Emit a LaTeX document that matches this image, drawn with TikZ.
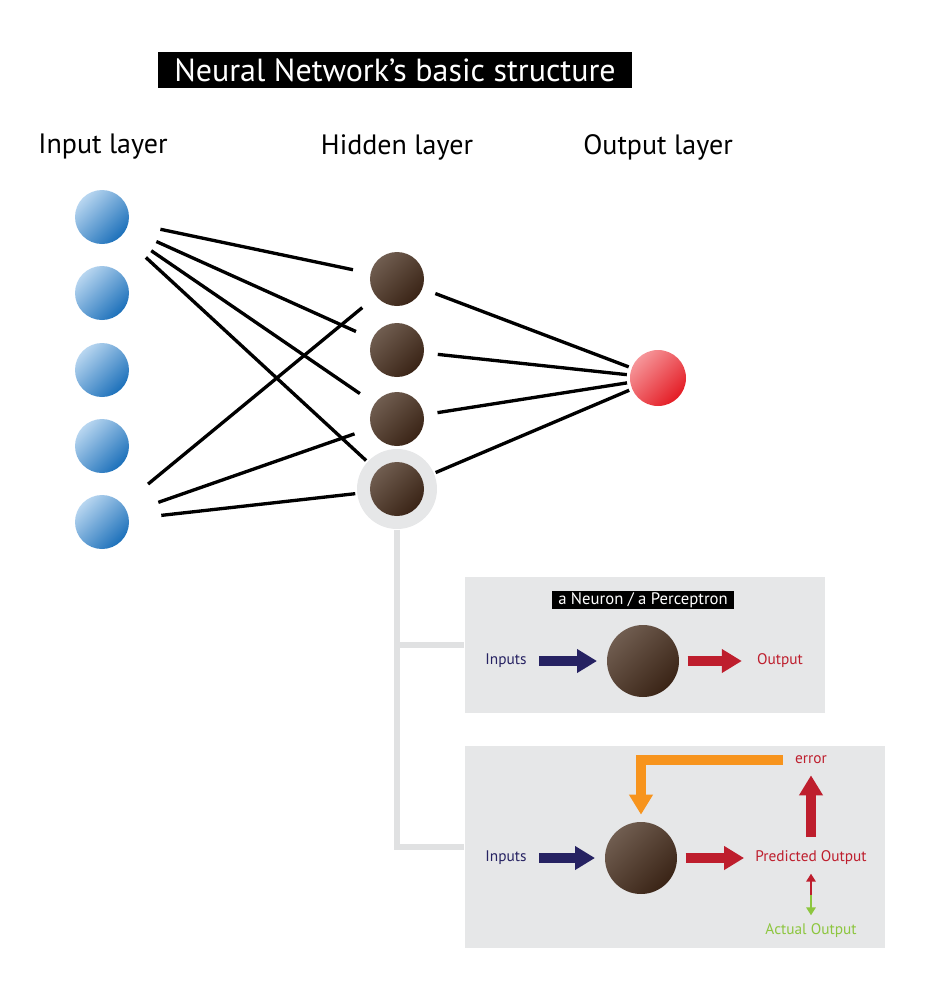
\documentclass[tikz,border=0pt]{standalone}
\usepackage{fontspec}
\setmainfont{PT Sans}
\usetikzlibrary{arrows.meta,positioning}

\definecolor{balllight}{RGB}{184,214,240}
\definecolor{ballmid}{RGB}{70,145,212}
\definecolor{ballblue}{RGB}{28,112,186}
\definecolor{nbrownlight}{RGB}{112,93,80}
\definecolor{nbrownmid}{RGB}{82,62,50}
\definecolor{nbrown}{RGB}{58,36,22}
\definecolor{redlight}{RGB}{246,150,154}
\definecolor{redmid}{RGB}{237,32,40}
\definecolor{reddark}{RGB}{228,28,36}
\definecolor{panelgray}{RGB}{230,231,232}
\definecolor{stemgray}{RGB}{224,225,226}
\definecolor{navy}{RGB}{38,34,98}
\definecolor{crimson}{RGB}{190,30,45}
\definecolor{amber}{RGB}{247,148,29}
\definecolor{leaf}{RGB}{141,198,63}

\tikzset{every picture/.style={line width=1pt}}
\tikzset{
  inball/.style={circle,minimum size=40.5pt,inner sep=0pt,top color=balllight,middle color=ballmid,bottom color=ballblue,shading angle=45},
  hidball/.style={circle,minimum size=40.5pt,inner sep=0pt,top color=nbrownlight,middle color=nbrownmid,bottom color=nbrown,shading angle=45},
  bigball/.style={circle,minimum size=54pt,inner sep=0pt,top color=nbrownlight,middle color=nbrownmid,bottom color=nbrown,shading angle=45},
  outball/.style={circle,minimum size=42pt,inner sep=0pt,top color=redlight,middle color=redmid,bottom color=reddark,shading angle=45},
  halo/.style={circle,minimum size=60pt,inner sep=0pt,fill=panelgray},
  layerlbl/.style={font=\fontsize{21}{24}\selectfont,inner sep=0pt},
  titlebox/.style={fill=black,text=white,minimum width=355pt,minimum height=27pt,inner sep=0pt,font=\fontsize{24}{27}\selectfont},
  tagbox/.style={fill=black,text=white,minimum width=137pt,minimum height=13pt,inner sep=0pt,font=\fontsize{12.5}{14}\selectfont},
  panel/.style={fill=panelgray,inner sep=0pt},
  smalllbl/.style={font=\fontsize{11.5}{13}\selectfont,inner sep=0pt},
  link/.style={line width=2.5pt},
  stem/.style={line width=5pt,stemgray},
  fatarrow/.style={line width=6.8pt,-{Triangle[width=17pt,length=15pt]},line join=miter},
  slimarrow/.style={line width=2.2pt,-{Triangle[width=7pt,length=6pt]}}
}

\begin{document}
\begin{tikzpicture}[x=0.75pt,y=0.75pt,yscale=-1]
\useasboundingbox (0,0) rectangle (928,1000);

% title and layer names
\node[titlebox] (title) at (395,70) {Neural Network’s basic structure};
\node[layerlbl] (lin) at (103,147) {Input layer};
\node[layerlbl] (lhid) at (397,147) {Hidden layer};
\node[layerlbl] (lout) at (658,147) {Output layer};

% panels for the single neuron
\node[panel,minimum width=270pt,minimum height=102pt] (panelA) at (645,645) {};
\node[panel,minimum width=315pt,minimum height=151.5pt] (panelB) at (675,847) {};

% halo round the last hidden neuron, and its stem
\node[halo] (halo) at (397,489) {};
\draw[stem] (halo.south) -- (halo.south |- panelB.west) -- (panelB.west);
\draw[stem] (halo.south |- panelA.west) -- (panelA.west);

% layers
\foreach \i/\y in {1/217,2/293,3/370,4/446,5/522}
  \node[inball] (in\i) at (102,\y) {};
\foreach \i/\y in {1/279,2/350,3/419,4/489}
  \node[hidball] (hid\i) at (397,\y) {};
\node[outball] (out) at (658,378) {};

% connections input -> hidden
\foreach \a/\b in {1/hid1,1/hid2,1/hid3,5/hid1,5/hid3}
  \draw[link,shorten <=24pt,shorten >=13pt] (in\a) -- (\b);
\foreach \a in {1,5}
  \draw[link,shorten <=24pt,shorten >=1pt] (in\a) -- (halo);
% connections hidden -> output
\foreach \b in {1,2,3}
  \draw[link,shorten <=10pt,shorten >=2pt] (hid\b) -- (out);
\draw[link,shorten <=1pt,shorten >=2pt] (halo) -- (out);

% a neuron / a perceptron
\node[tagbox] (tagA) at (643,600) {a Neuron / a Perceptron};
\node[bigball] (neuA) at (643,661) {};
\node[smalllbl,text=navy] (inA) at (506,661) {Inputs};
\node[smalllbl,text=crimson] (outA) at (780,661) {Output};
\draw[fatarrow,navy,shorten <=9pt,shorten >=7pt] (inA) -- (neuA);
\draw[fatarrow,crimson,shorten <=6pt,shorten >=11pt] (neuA) -- (outA);

% neuron with error feedback
\node[bigball] (neuB) at (641,858) {};
\node[smalllbl,text=navy] (inB) at (506,858) {Inputs};
\node[smalllbl,text=crimson] (pred) at (811,858) {Predicted Output};
\node[smalllbl,text=crimson] (err) at (811,760) {error};
\node[smalllbl,text=leaf] (act) at (811,931) {Actual Output};
\draw[fatarrow,navy,shorten <=9pt,shorten >=7pt] (inB) -- (neuB);
\draw[fatarrow,crimson,shorten <=6pt,shorten >=8pt] (neuB) -- (pred);
\draw[fatarrow,crimson,shorten <=10pt,shorten >=8pt] (pred) -- (err);
\draw[fatarrow,amber,shorten <=9pt,shorten >=5pt] (err.west) -- (err.west -| neuB) -- (neuB.north);
\path (pred.south) -- (act.north) coordinate[midway] (gap);
\draw[slimarrow,crimson,shorten >=6pt] (gap) -- (pred.south);
\draw[slimarrow,leaf,shorten >=6pt] (gap) -- (act.north);

\end{tikzpicture}
\end{document}
